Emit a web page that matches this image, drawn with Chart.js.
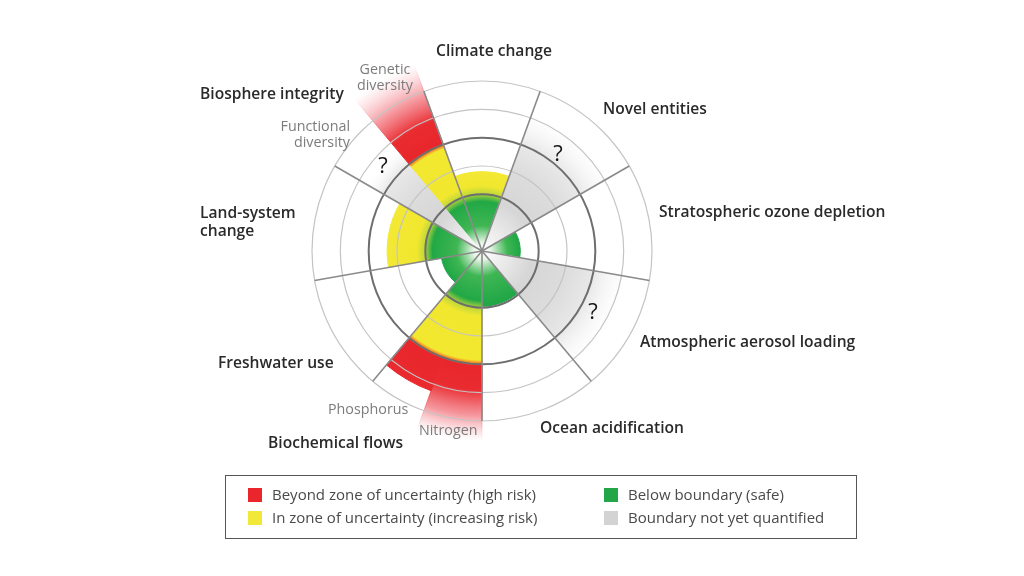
<!DOCTYPE html>
<html>
<head>
<meta charset="utf-8">
<title>Planetary boundaries</title>
<script src="https://cdn.jsdelivr.net/npm/chart.js@4.4.1/dist/chart.umd.min.js"></script>
<style>
  body { margin: 0; background: #fff; font-family: "Open Sans", "Liberation Sans", sans-serif; }
  #wrap { position: relative; width: 1024px; height: 576px; overflow: hidden; }
  #legend { position: absolute; left: 225px; top: 475px; width: 632px; height: 64px;
            border: 1px solid #555; box-sizing: border-box; }
  .item { position: absolute; font-size: 15px; color: #4a4a4a; line-height: 16px; white-space: nowrap; }
  .item span { display: inline-block; width: 14px; height: 14px; vertical-align: -2px; margin-right: 10px; }
</style>
</head>
<body>
<div id="wrap">
  <canvas id="boundaries" width="1024" height="576"></canvas>
  <div id="legend"></div>
</div>
<script>
// 18 slices of 20 degrees, clockwise from 340 deg (top, slightly left)
const segmentLabels = [
  "Climate change", "Climate change",
  "Novel entities", "Novel entities",
  "Stratospheric ozone depletion", "Stratospheric ozone depletion",
  "Atmospheric aerosol loading", "Atmospheric aerosol loading",
  "Ocean acidification", "Ocean acidification",
  "Nitrogen", "Phosphorus",
  "Freshwater use", "Freshwater use",
  "Land-system change", "Land-system change",
  "Functional diversity", "Genetic diversity"
];
// how far each control variable reaches, in rings (2 = boundary, 4 = end of uncertainty zone)
const segmentExtent = [2.8, 2.8, 5.2, 5.2, 1.35, 1.35, 5.2, 5.2, 1.95, 1.95, 6.7, 5.25, 1.45, 1.45, 3.35, 3.35, 4.7, 7.0];
const segmentStatus = [
  "uncertain", "uncertain", "unknown", "unknown", "safe", "safe", "unknown", "unknown",
  "safe", "safe", "high", "high", "safe", "safe", "uncertain", "uncertain", "unknown", "high"
];
const boundaryRing = 2;
const uncertaintyRing = 4;

const legendItems = [
  { text: "Beyond zone of uncertainty (high risk)", color: "#e8262b" },
  { text: "In zone of uncertainty (increasing risk)", color: "#f2e838" },
  { text: "Below boundary (safe)", color: "#22a648" },
  { text: "Boundary not yet quantified", color: "#d3d3d3" }
];

// text placement around the wheel
const labelLayout = [
  { lines: ["Climate change"], x: 436, y: 52 },
  { lines: ["Novel entities"], x: 603, y: 110 },
  { lines: ["Stratospheric ozone depletion"], x: 659, y: 213 },
  { lines: ["Atmospheric aerosol loading"], x: 640, y: 343 },
  { lines: ["Ocean acidification"], x: 540, y: 429 },
  { lines: ["Biochemical flows"], x: 268, y: 444 },
  { lines: ["Freshwater use"], x: 218, y: 364 },
  { lines: ["Land-system", "change"], x: 200, y: 214 },
  { lines: ["Biosphere integrity"], x: 200, y: 95 }
];
const subLabelLayout = [
  { lines: ["Genetic", "diversity"], x: 385, y: 70, align: "center" },
  { lines: ["Functional", "diversity"], x: 350, y: 127, align: "right" },
  { lines: ["Phosphorus"], x: 328, y: 410, align: "left" },
  { lines: ["Nitrogen"], x: 419, y: 431, align: "left" }
];
const questionMarks = [{ x: 383, y: 167 }, { x: 558, y: 155 }, { x: 593, y: 313 }];

function segmentFill(context) {
  const chart = context.chart;
  const scale = chart.scales.r;
  const i = context.dataIndex;
  if (!scale || i === undefined || !scale.drawingArea) return "rgba(0,0,0,0)";
  const v = segmentExtent[i];
  const outer = Math.max(1, scale.getDistanceFromCenterForValue(v));
  const g = chart.ctx.createRadialGradient(scale.xCenter, scale.yCenter, 0, scale.xCenter, scale.yCenter, outer);
  const at = (val, color) => g.addColorStop(Math.min(1, Math.max(0, val / v)), color);
  const status = segmentStatus[i];

  if (status === "unknown") {
    at(0, "#ffffff");
    at(0.6, "#f0f0f0");
    at(1.8, "#d6d6d6");
    at(3.0, "#dcdcdc");
    at(4.0, "#e8e8e8");
    at(v, "rgba(248,248,248,0)");
    return g;
  }
  // green core around the centre
  at(0, "#ffffff");
  at(0.3, "#e8f5e8");
  at(0.9, "#3fb653");
  if (status === "safe") {
    at(v, "#1fa646");
    return g;
  }
  at(1.75, "#22a846");
  at(2.05, "#c3d93a");
  at(2.3, "#f1e72e");
  if (status === "uncertain") {
    at(v, "#f3e935");
    return g;
  }
  at(uncertaintyRing - 0.15, "#f3e830");
  at(uncertaintyRing - 0.05, "#f08a25");
  at(uncertaintyRing + 0.05, "#e8262b");
  if (v > 6) {
    at(4.9, "#e92c31");
    at(5.8, "rgba(238,80,90,0.6)");
    at(v, "rgba(245,150,160,0)");
  } else {
    at(v, "#e92a2f");
  }
  return g;
}

const labelsPlugin = {
  id: "wheelLabels",
  afterDraw(chart) {
    const ctx = chart.ctx;
    ctx.save();
    ctx.textBaseline = "middle";
    ctx.fillStyle = "#2a2a2a";
    ctx.font = "600 15.6px 'Open Sans', sans-serif";
    ctx.textAlign = "left";
    labelLayout.forEach(l => l.lines.forEach((t, k) => ctx.fillText(t, l.x, l.y + k * 18)));
    ctx.fillStyle = "#7c7c7c";
    ctx.font = "14.3px 'Open Sans', sans-serif";
    subLabelLayout.forEach(l => {
      ctx.textAlign = l.align;
      l.lines.forEach((t, k) => ctx.fillText(t, l.x, l.y + k * 16));
    });
    ctx.fillStyle = "#151515";
    ctx.font = "22px 'Open Sans', sans-serif";
    ctx.textAlign = "center";
    questionMarks.forEach(q => ctx.fillText("?", q.x, q.y));
    ctx.restore();
  }
};

const chart = new Chart(document.getElementById("boundaries").getContext("2d"), {
  type: "polarArea",
  data: {
    labels: segmentLabels,
    datasets: [{
      data: segmentExtent,
      backgroundColor: segmentFill,
      borderColor: segmentFill,
      borderWidth: 1,
      clip: false
    }]
  },
  options: {
    responsive: false,
    devicePixelRatio: 1,
    animation: false,
    events: [],
    layout: { padding: { left: 312, right: 372, top: 81, bottom: 155 } },
    plugins: { legend: { display: false }, tooltip: { enabled: false } },
    scales: {
      r: {
        min: 0,
        max: 6,
        startAngle: -20,
        ticks: { display: false, stepSize: 1 },
        pointLabels: { display: false },
        grid: {
          z: 1,
          circular: true,
          color: c => c.tick.value === 1 ? "rgba(0,0,0,0)" : (c.tick.value % 2 === 0 && c.tick.value < 6 ? "#6e6e6e" : "#c4c4c4"),
          lineWidth: c => (c.tick.value % 2 === 0 && c.tick.value < 6) ? 2 : 1.2
        },
        angleLines: {
          display: true,
          color: c => c.index % 2 ? "rgba(0,0,0,0)" : "#8a8a8a",
          lineWidth: c => c.index % 2 ? 0 : 1.6
        }
      }
    }
  },
  plugins: [labelsPlugin]
});

// legend box under the wheel
const legend = document.getElementById("legend");
const spots = [[22, 10], [22, 33], [378, 10], [378, 33]];
legendItems.forEach((item, n) => {
  const d = document.createElement("div");
  d.className = "item";
  d.style.left = spots[n][0] + "px";
  d.style.top = spots[n][1] + "px";
  d.innerHTML = '<span style="background:' + item.color + '"></span>' + item.text;
  legend.appendChild(d);
});
</script>
</body>
</html>
